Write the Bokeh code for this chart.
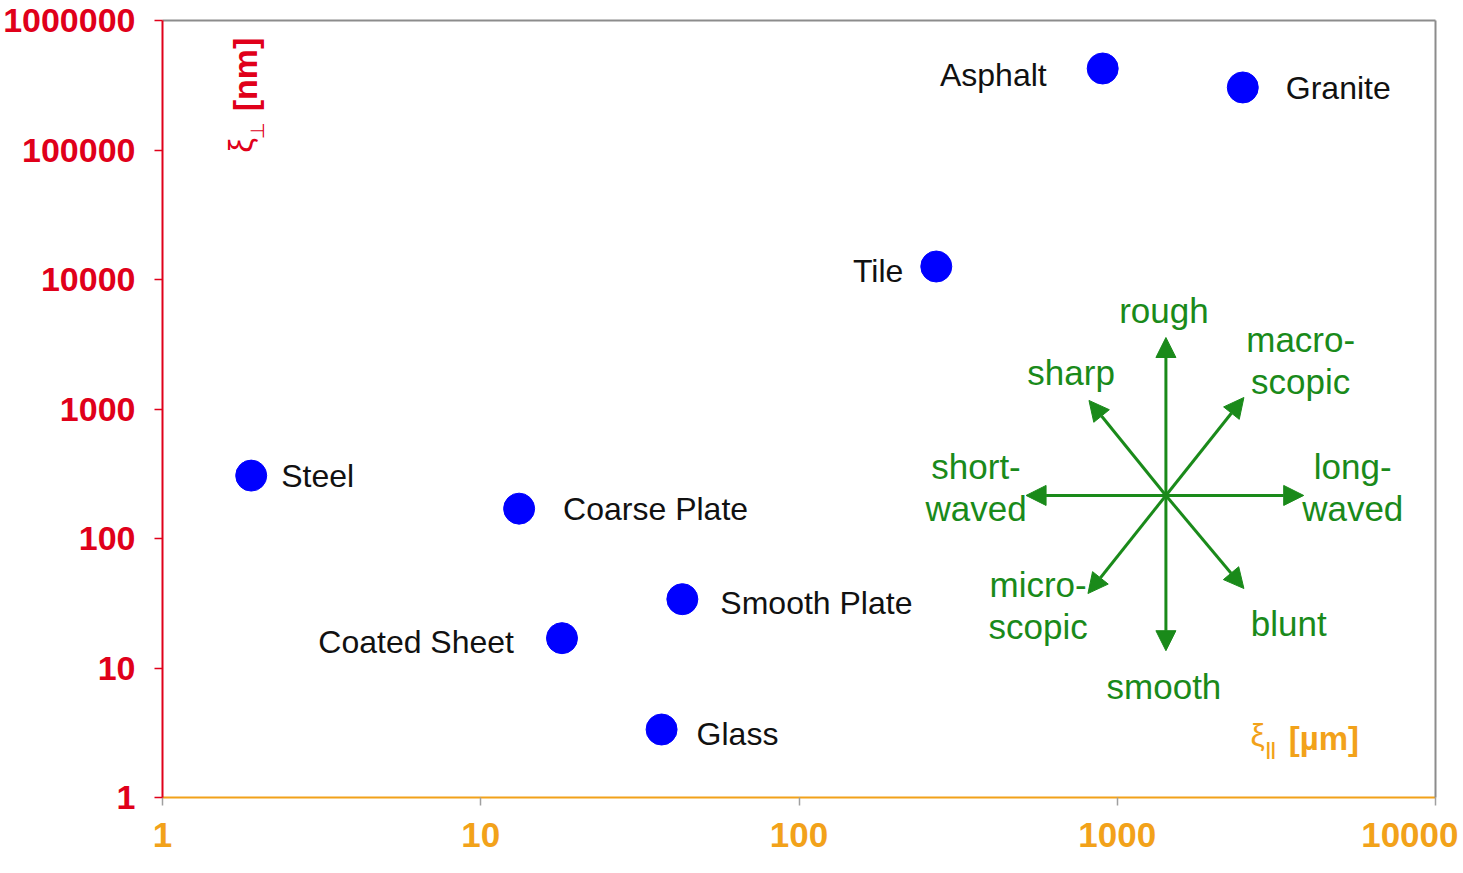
import numpy as np

from bokeh.plotting import figure
from bokeh.models import (ColumnDataSource, FixedTicker, PrintfTickFormatter,
                          LogAxis, Arrow, NormalHead)
from bokeh.core.properties import value
from bokeh.embed import file_html
from bokeh.resources import INLINE

# surfaces: lateral correlation length (um) vs vertical roughness (nm)
materials = ["Steel", "Coarse Plate", "Smooth Plate", "Coated Sheet",
             "Glass", "Tile", "Asphalt", "Granite"]
xi_par = [1.9, 13.2, 43, 18, 37, 270, 900, 2480]
xi_perp = [306, 170, 34, 17, 3.35, 12600, 426000, 304000]

x_ticks = [1, 10, 100, 1000, 10000]
y_ticks = [1, 10, 100, 1000, 10000, 100000, 1000000]

# compass rose (data coords)
compass_x = 1422
compass_y = 215
tips_x = [1422, 1422, 517, 3854, 2500, 815, 809, 2500]
tips_y = [3565, 13.6, 215, 215, 1227, 1164, 37.6, 41.1]
compass_words = ["rough", "smooth", "short-\nwaved", "long-\nwaved",
                 "macro-\nscopic", "sharp", "micro-\nscopic", "blunt"]
words_x = [1402, 1402, 360, 5495, 3770, 716, 564, 3456]
words_y = [5770, 7.2, 248, 248, 2371, 1914, 30.4, 22.1]

# label placement next to each marker (screen px)
label_dx = [30, 44, 38, -48, 35, -33, -56, 43]
label_dy = [0, 0, 4, 4, 4, 4, 7, 1]

RED = "#E0001A"
ORANGE = "#F2A21A"
GREEN = "#1A8A1A"
FONT = "Liberation Sans"

p = figure(width=1458, height=862, x_axis_type="log", y_axis_type="log",
           x_range=(1, 10000), y_range=(1, 1000000),
           output_backend="svg", toolbar_location=None,
           min_border_left=160, min_border_right=23,
           min_border_top=20, min_border_bottom=65)
p.grid.visible = False
p.outline_line_color = None
p.background_fill_color = "white"

# axes
p.xaxis.ticker = FixedTicker(ticks=x_ticks)
p.yaxis.ticker = FixedTicker(ticks=y_ticks)
p.xaxis.formatter = PrintfTickFormatter(format="%d")
p.yaxis.formatter = PrintfTickFormatter(format="%d")
for ax, col in ((p.xaxis, ORANGE), (p.yaxis, RED)):
    ax.axis_line_color = col
    ax.axis_line_width = 2
    ax.major_tick_line_color = "#a0a0a0"
    ax.major_tick_line_width = 1.5
    ax.major_tick_out = 8
    ax.major_tick_in = 0
    ax.minor_tick_line_color = None
    ax.major_label_text_color = col
    ax.major_label_text_font = FONT
    ax.major_label_text_font_style = "bold"
    ax.major_label_text_font_size = "34px"
p.xaxis.major_label_text_font_size = "35px"
p.yaxis.major_tick_line_color = RED
p.yaxis.major_label_standoff = 19
p.xaxis.major_label_standoff = 17

for loc in ("above", "right"):
    frame_ax = LogAxis(ticker=FixedTicker(ticks=[]), axis_line_color="#8c8c8c",
                       axis_line_width=2, major_tick_line_color=None,
                       minor_tick_line_color=None, major_label_text_font_size="0px",
                       major_tick_out=0, major_label_standoff=0)
    p.add_layout(frame_ax, loc)

# compass
arrows = ColumnDataSource(data=dict(x_end=tips_x, y_end=tips_y))
p.add_layout(Arrow(end=NormalHead(size=20, fill_color=GREEN, line_color=GREEN),
                   x_start=compass_x, y_start=compass_y,
                   x_end="x_end", y_end="y_end", source=arrows,
                   line_color=GREEN, line_width=3))
p.text(x=words_x, y=words_y, text=compass_words, text_font=value(FONT),
       text_font_size="35px", text_color=GREEN, text_align="center",
       text_baseline="middle", text_line_height=1.07)

# points and their names
src = ColumnDataSource(data=dict(
    x=xi_par, y=xi_perp, name=materials,
    dx=label_dx, dy=label_dy,
    align=["left" if d > 0 else "right" for d in label_dx]))
p.scatter("x", "y", source=src, size=31, fill_color="#0000FF",
          line_color="#0000FF")
p.text("x", "y", text="name", source=src, x_offset="dx", y_offset="dy",
       text_align="align", text_baseline="middle", text_font=value(FONT),
       text_font_size="32px", text_color="#111111")

# axis titles inside the frame
p.text(x=[1.81], y=[251000], text=["[nm]"], angle=np.pi / 2, y_offset=13,
       text_align="left", text_baseline="middle", text_font=value(FONT),
       text_font_style="bold", text_font_size="34px", text_color=RED)
p.text(x=[1.81], y=[251000], text=["ξ"], angle=np.pi / 2, y_offset=47,
       x_offset=-4, text_align="center", text_baseline="middle",
       text_font=value(FONT), text_font_size="33px", text_color=RED)
p.text(x=[1.81], y=[251000], text=["⊥"], angle=np.pi / 2, y_offset=32,
       x_offset=13, text_align="center", text_baseline="middle",
       text_font=value(FONT), text_font_size="19px", text_color=RED)

p.text(x=[3459], y=[2.855], text=["[µm]"], text_align="left",
       text_baseline="middle", text_font=value(FONT), text_font_style="bold",
       text_font_size="33px", text_color=ORANGE)
p.text(x=[3459], y=[2.855], text=["ξ"], x_offset=-31, y_offset=-3,
       text_align="center", text_baseline="middle", text_font=value(FONT),
       text_font_size="32px", text_color=ORANGE)
p.text(x=[3459], y=[2.855], text=["||"], x_offset=-18, y_offset=11,
       text_align="center", text_baseline="middle", text_font=value(FONT),
       text_font_style="bold", text_font_size="18px", text_color=ORANGE)

open("out.html", "w").write(file_html(p, INLINE))
